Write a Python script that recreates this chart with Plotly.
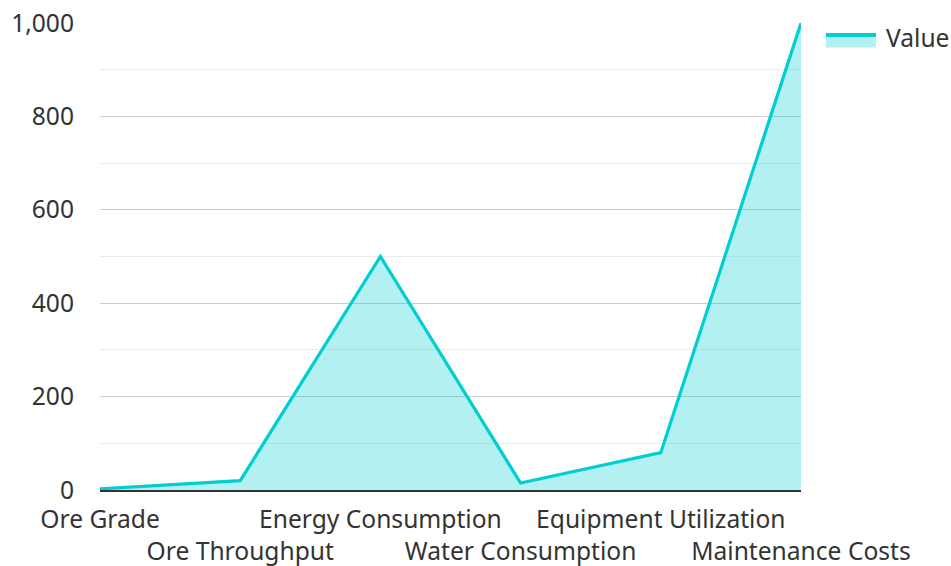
import plotly.graph_objects as go

categories = ["Ore Grade", "Ore Throughput", "Energy Consumption",
              "Water Consumption", "Equipment Utilization", "Maintenance Costs"]
values = [2.5, 20, 500, 15, 80, 1000]
y_ticks = [0, 200, 400, 600, 800, 1000]
y_tick_labels = ["0", "200", "400", "600", "800", "1,000"]
series_name = "Value"

LINE = "#00CED1"
FILL = "rgba(0,206,209,0.3)"
TEXT = "#333333"
FONT_SIZE = 24.6

# alternate category labels onto a second row so they don't collide
x_tick_labels = [c if i % 2 == 0 else "<br>" + c for i, c in enumerate(categories)]

fig = go.Figure()
fig.add_trace(go.Scatter(
    x=list(range(len(categories))),
    y=values,
    name=series_name,
    mode="lines",
    fill="tozeroy",
    line=dict(color=LINE, width=3.2),
    fillcolor=FILL,
    showlegend=False,
))

# legend key drawn beside the plot area (paper coordinates)
W, H = 701.0, 467.0  # plot area size in px
def px_x(p):
    return (p - 100) / W
def px_y(p):
    return (490 - p) / H

fig.add_shape(type="rect", xref="paper", yref="paper",
              x0=px_x(826), x1=px_x(876), y0=px_y(47.5), y1=px_y(34),
              fillcolor=FILL, line=dict(width=0), layer="above")
fig.add_shape(type="line", xref="paper", yref="paper",
              x0=px_x(826), x1=px_x(876), y0=px_y(35), y1=px_y(35),
              line=dict(color=LINE, width=4), layer="above")
fig.add_annotation(xref="paper", yref="paper", x=px_x(884), y=px_y(37),
                   xanchor="left", yanchor="middle", showarrow=False,
                   text=series_name, font=dict(size=FONT_SIZE, color=TEXT))

fig.update_layout(
    width=951, height=566,
    margin=dict(l=100, r=150, t=23, b=76, autoexpand=False),
    paper_bgcolor="white",
    plot_bgcolor="white",
    font=dict(family="Noto Sans", size=FONT_SIZE, color=TEXT),
    showlegend=False,
    xaxis=dict(
        range=[-0.0001, len(categories) - 1 + 0.0001],
        tickmode="array",
        tickvals=list(range(len(categories))),
        ticktext=x_tick_labels,
        tickangle=0,
        automargin=False,
        showgrid=False,
        zeroline=False,
        showline=True, linecolor="#333333", linewidth=2,
        ticks="", ticklabelstandoff=6,
    ),
    yaxis=dict(
        range=[0, 1000],
        tickmode="array",
        tickvals=y_ticks,
        ticktext=y_tick_labels,
        automargin=False,
        showgrid=True, gridcolor="#CCCCCC", gridwidth=1,
        minor=dict(dtick=100, tick0=0, showgrid=True, gridcolor="#EBEBEB", gridwidth=1),
        zeroline=False,
        showline=False,
        ticks="", ticklabelstandoff=25,
    ),
)

fig.write_html("out.html")
